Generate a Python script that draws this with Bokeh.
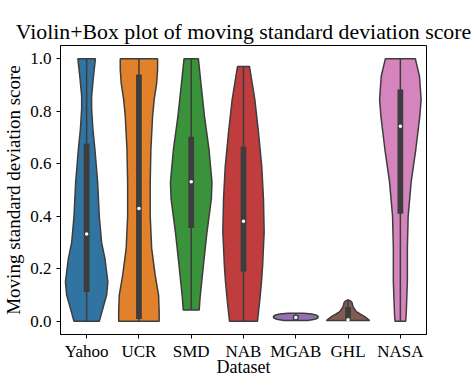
from bokeh.plotting import figure
from bokeh.models import FixedTicker, PrintfTickFormatter, Range1d
from bokeh.embed import file_html
from bokeh.resources import INLINE

# ---- data ----
categories = ["Yahoo", "UCR", "SMD", "NAB", "MGAB", "GHL", "NASA"]
colors = ["#3274a1", "#e1812c", "#3a923a", "#c03d3e", "#9372b2", "#845b53", "#d684bd"]

# violin profiles: score grid and half-width (in category units)
yahoo_y = [0.0, 0.05, 0.10, 0.15, 0.24, 0.30, 0.40, 0.53, 0.655, 0.73, 0.81, 0.857, 0.93, 1.0]
yahoo_w = [0.242, 0.311, 0.382, 0.405, 0.349, 0.286, 0.242, 0.210, 0.158, 0.120, 0.095, 0.095, 0.130, 0.168]
ucr_y = [0.0, 0.037, 0.10, 0.175, 0.277, 0.40, 0.53, 0.655, 0.78, 0.845, 0.908, 0.958, 1.0]
ucr_w = [0.387, 0.387, 0.376, 0.311, 0.244, 0.216, 0.216, 0.229, 0.261, 0.292, 0.340, 0.357, 0.357]
smd_y = [0.043, 0.087, 0.213, 0.34, 0.466, 0.53, 0.655, 0.78, 0.908, 1.0]
smd_w = [0.153, 0.168, 0.233, 0.302, 0.385, 0.397, 0.340, 0.254, 0.185, 0.137]
nab_y = [0.0, 0.076, 0.15, 0.213, 0.34, 0.466, 0.59, 0.72, 0.845, 0.97]
nab_w = [0.267, 0.309, 0.344, 0.366, 0.395, 0.382, 0.349, 0.286, 0.216, 0.115]
mgab_y = [0.003, 0.008, 0.013, 0.018, 0.023, 0.028, 0.031]
mgab_w = [0.229, 0.363, 0.420, 0.429, 0.401, 0.305, 0.153]
ghl_y = [0.003, 0.018, 0.028, 0.037, 0.056, 0.071, 0.078, 0.081]
ghl_w = [0.414, 0.319, 0.229, 0.158, 0.095, 0.076, 0.048, 0.015]
nasa_y = [0.0, 0.024, 0.15, 0.277, 0.40, 0.53, 0.655, 0.78, 0.845, 0.933, 1.0]
nasa_w = [0.101, 0.111, 0.134, 0.134, 0.149, 0.206, 0.296, 0.372, 0.397, 0.366, 0.286]

# box statistics: min, q1, median, q3, max
stat_min = [0.0, 0.0, 0.043, 0.0, 0.003, 0.003, 0.0]
stat_q1 = [0.112, 0.009, 0.355, 0.19, 0.005, 0.003, 0.41]
stat_med = [0.333, 0.43, 0.531, 0.381, 0.015, 0.006, 0.743]
stat_q3 = [0.677, 0.94, 0.703, 0.665, 0.024, 0.055, 0.883]
stat_max = [1.0, 1.0, 1.0, 0.97, 0.031, 0.081, 1.0]

y_ticks = [0.0, 0.2, 0.4, 0.6, 0.8, 1.0]

profiles = [(yahoo_y, yahoo_w), (ucr_y, ucr_w), (smd_y, smd_w), (nab_y, nab_w),
            (mgab_y, mgab_w), (ghl_y, ghl_w), (nasa_y, nasa_w)]

FONT = "Liberation Serif"
GRAY = "#3d3d3d"

p = figure(width=474, height=379, output_backend="svg", toolbar_location=None,
           x_range=Range1d(-0.5, 6.5), y_range=Range1d(-0.05, 1.05),
           min_border_left=60, min_border_right=48, min_border_top=45, min_border_bottom=43,
           title="Violin+Box plot of moving standard deviation score")
p.title.text_font = FONT
p.title.text_font_size = "21.8px"
p.title.text_font_style = "normal"
p.title.text_color = "black"
p.title.align = "center"
p.title.standoff = 4

xs, ys = [], []
for i, (py, pw) in enumerate(profiles):
    x_side = [i + w for w in pw] + [i - w for w in reversed(pw)]
    y_side = list(py) + list(reversed(py))
    xs.append(x_side)
    ys.append(y_side)
p.patches(xs, ys, fill_color=colors, line_color=GRAY, line_width=1.5)

idx = list(range(len(categories)))
p.segment(x0=idx, y0=stat_min, x1=idx, y1=stat_max, line_color=GRAY, line_width=1.5)
p.vbar(x=idx, width=0.11, bottom=stat_q1, top=stat_q3, fill_color=GRAY, line_color=None)
p.scatter(x=idx, y=stat_med, size=3.5, fill_color="white", line_color=None)

p.grid.visible = False
p.outline_line_color = "black"
p.outline_line_width = 1
p.outline_line_alpha = 1

p.xaxis.ticker = FixedTicker(ticks=idx)
p.xaxis.major_label_overrides = {i: c for i, c in enumerate(categories)}
p.yaxis.ticker = FixedTicker(ticks=y_ticks)
p.yaxis.formatter = PrintfTickFormatter(format="%.1f")
p.xaxis.axis_label = "Dataset"
p.yaxis.axis_label = "Moving standard deviation score"

for ax in (p.xaxis[0], p.yaxis[0]):
    ax.axis_line_color = "black"
    ax.major_tick_line_color = "black"
    ax.major_tick_in = 0
    ax.major_tick_out = 4
    ax.minor_tick_line_color = None
    ax.major_label_text_font = FONT
    ax.major_label_text_font_size = "17px"
    ax.major_label_text_color = "black"
    ax.axis_label_text_font = FONT
    ax.axis_label_text_font_style = "normal"
    ax.axis_label_text_color = "black"

p.yaxis[0].axis_label_text_font_size = "19px"
p.yaxis[0].major_label_standoff = 5
p.yaxis[0].axis_label_standoff = 3
p.xaxis[0].axis_label_text_font_size = "18px"
p.xaxis[0].major_label_standoff = 3
p.xaxis[0].axis_label_standoff = -7

open("out.html", "w").write(file_html(p, INLINE))
